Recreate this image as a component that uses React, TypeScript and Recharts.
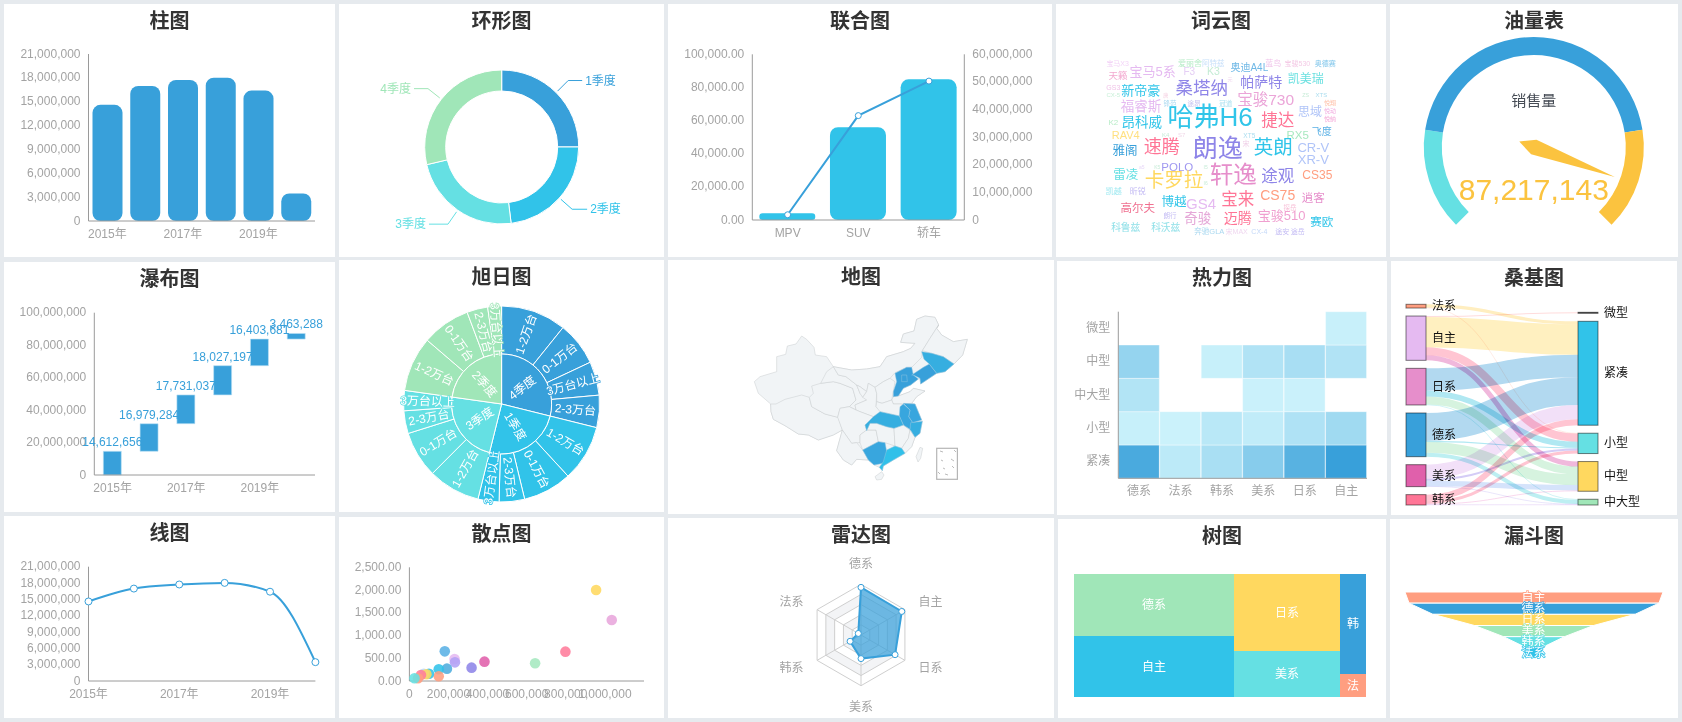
import React from 'react';
import {
  BarChart, Bar, XAxis, YAxis, PieChart, Pie, Cell, ComposedChart, Line, LineChart, ScatterChart, Scatter,
  RadarChart, Radar, PolarGrid, PolarAngleAxis, PolarRadiusAxis, Sankey, Treemap, FunnelChart, Funnel, LabelList,
} from 'recharts';

// ---------- palette ----------
const BLUE = '#38a0da', CYAN = '#31c3e9', AQUA = '#65e0e3', GREEN = '#a0e6b8', YELLOW = '#ffd85f', CORAL = '#ff9e80',
  GOLD = '#fbc33f', PINK = '#e68ecb', LILAC = '#e5baf1', MAGENTA = '#e060ab', ROSE = '#ff7596', VIOLET = '#8e85e8';
const AXIS = '#9a9a9a', TICK = '#a3a3a3';

// ---------- data ----------
const years = ['2015年', '2016年', '2017年', '2018年', '2019年', '2020年'];
const yearSales = [14612656, 16979284, 17731037, 18027197, 16403681, 3463288];
const salesTicks = [0, 3000000, 6000000, 9000000, 12000000, 15000000, 18000000, 21000000];

const quarters = ['1季度', '2季度', '3季度', '4季度'];
const quarterSales = [21800000, 20100000, 20300000, 25017143];

const bodyTypes = ['MPV', 'SUV', '轿车'];
const bodyPrice = [4000, 56000, 84900];
const bodySales = [1900000, 37800000, 50300000];

const gaugeLabel = '销售量';
const gaugeValue = 87217143;
const gaugeMax = 96000000;
const gaugeBands = [20, 60, 20];

const waterfallTicks = [0, 20000000, 40000000, 60000000, 80000000, 100000000];

const sunQuarters = ['4季度', '1季度', '3季度', '2季度'];
const sunChildren = [
  [['1-2万台', 9400000], ['0-1万台', 6300000], ['3万台以上', 4850000], ['2-3万台', 4650000]],
  [['1-2万台', 8090000], ['0-1万台', 7030000], ['2-3万台', 3660000], ['3万台以上', 3030000]],
  [['1-2万台', 7490000], ['0-1万台', 6690000], ['2-3万台', 3270000], ['3万台以上', 2910000]],
  [['1-2万台', 7900000], ['0-1万台', 6980000], ['2-3万台', 3000000], ['3万台以上', 1990000]],
];

const heatX = ['德系', '法系', '韩系', '美系', '日系', '自主'];
const heatRows = ['紧凑', '小型', '中大型', '中型', '微型'];
const heatValues = [
  [88, 10, 23, 46, 78, 100],
  [3, 0, 12, 7, 19, 29],
  [17, null, null, 1, 1, null],
  [37, null, 3, 18, 24, 18],
  [null, null, null, null, null, 2],
];

const sankeyNames = ['法系', '自主', '日系', '德系', '美系', '韩系', '微型', '紧凑', '小型', '中型', '中大型'];
const sankeyFlows = [
  [0, 7, 3.2], [0, 8, 0.5],
  [1, 6, 1], [1, 7, 30], [1, 8, 8], [1, 9, 5],
  [2, 7, 22.3], [2, 8, 5.7], [2, 9, 7.7], [2, 10, 0.7],
  [3, 7, 27.7], [3, 8, 1], [3, 9, 10.7], [3, 10, 4],
  [4, 7, 14], [4, 8, 2], [4, 9, 5.3], [4, 10, 0.5],
  [5, 7, 6], [5, 8, 3], [5, 9, 0.8], [5, 10, 0.5],
];

const scatterX = [955000, 1035000, 798000, 643000, 384000, 318000, 231000, 233000, 181000, 192000, 150000, 150000, 100000, 74000, 87000, 59000, 44000, 26000];
const scatterY = [2001, 1342, 645, 389, 425, 293, 484, 410, 652, 271, 257, 103, 161, 161, 147, 132, 59, 59];
const scatterXTicks = [0, 200000, 400000, 600000, 800000, 1000000];
const scatterYTicks = [0, 500, 1000, 1500, 2000, 2500];

const brandOrder = ['德系', '自主', '日系', '美系', '韩系', '法系'];
const brandSales = [23960000, 23690000, 19790000, 11870000, 6330000, 1570000];
const radarMax = 25500000;

const funnelNames = ['自主', '德系', '日系', '美系', '韩系', '法系'];
const funnelValues = [2396, 2320, 1876, 1105, 566, 139];

const cloudWords = ['宝马X3', '宝马5系', '爱丽舍', '阿特兹', '奥迪A4L', '蓝鸟', '宝骏530', '奥德赛', '天籁', 'F3', 'K3', '元', '凯美瑞', '帕萨特', '桑塔纳', '新帝豪', 'GS3', 'CX-5', '唐', 'ZS', 'XTS', '宝骏730', '福睿斯', '锋范', '途昂', '冠道', '悦翔', '悦动', '悦纳', '思域', '哈弗H6', '捷达', '昂科威', 'K2', 'RAV4', 'K4', 'S7', 'XT5', 'RX5', '飞度', '速腾', '朗逸', '英朗', 'CR-V', '雅阁', '宋', 'XR-V', 'POLO', 'a5', 'K5', 'I5', 'I6', '雷凌', '卡罗拉', '轩逸', '途观', 'CS35', '凯越', '昕锐', '博越', 'GS4', '宝来', 'CS75', '逍客', '高尔夫', '探岳', '奇骏', '迈腾', '宝骏510', '朗行', '科鲁兹', '科沃兹', '赛欧', '奔驰GLA', '宋MAX', 'CX-4', '途安', '途岳'];
const cloudWeights = [7, 13, 8, 7.5, 10, 8, 7, 7, 9.5, 10, 10.5, 5, 12, 14, 17.5, 13, 7, 6, 5, 5.5, 6, 15.5, 13.5, 6.5, 6.5, 6.5, 6, 6, 6, 12, 26, 16.5, 13.5, 8, 11, 6, 6, 6.5, 11.5, 10, 18, 25, 19.5, 13, 12.5, 7, 13, 11.5, 5, 5, 5, 5, 12.5, 19.5, 23.5, 16.5, 12, 8, 8, 12.5, 15, 16.5, 14, 11.5, 11.5, 6.5, 13.5, 14, 13, 6.5, 9.7, 9.7, 11.5, 7.5, 7, 7, 7, 7];

// ---------- layout tables (word cloud placement / map outline, in units of 1/3 px) ----------
const cloudLayout = [[203,190,'#f3d4f7'],[308,213,'#e5baf1'],[420,190,'#b8ecc8'],[490,190,'#c8e0fa'],[598,202,'#6fb8e6'],[670,190,'#f0c4ea'],[742,190,'#f4cbe6'],[826,190,'#7cc4ea'],[204,227,'#f3a9d0'],[418,213,'#e5cff5'],[490,213,'#c5ecd5'],[540,238,'#f0d8f0'],[767,238,'#6ae0e0'],[634,247,'#8e85e8'],[455,264,'#8e85e8'],[272,272,'#31c5e9'],[190,262,'#f0c4e8'],[190,286,'#c8f0d8'],[347,285,'#f4cde0'],[767,286,'#c8ecd8'],[814,286,'#aaddef'],[647,298,'#eba5d8'],[273,320,'#e5baf1'],[360,310,'#a9d8f0'],[432,310,'#c4c0f0'],[527,310,'#a9e0f0'],[840,310,'#ffc0a8'],[840,334,'#f2aee0'],[840,358,'#f4a8d8'],[780,335,'#b0c4f8'],[480,350,'#31c5e9'],[683,360,'#ff7596'],[275,368,'#31c5e9'],[190,368,'#b8ecc8'],[227,405,'#ffe080'],[347,405,'#c8ecd8'],[395,405,'#f0d8e8'],[598,405,'#aaddef'],[743,405,'#a8e8c0'],[815,393,'#5ab0e5'],[335,442,'#ff7596'],[503,444,'#8e85e8'],[670,442,'#31c5e9'],[790,442,'#b0c4f8'],[225,452,'#38a0da'],[588,430,'#f0d0e8'],[790,478,'#b0c4f8'],[382,501,'#a098f0'],[275,501,'#e8d8f8'],[322,501,'#c8ecd8'],[467,501,'#c8ecd8'],[467,550,'#c8ecd8'],[227,525,'#65e0e3'],[372,541,'#ffd85f'],[550,526,'#e68ecb'],[683,527,'#8e85e8'],[802,526,'#ff9e80'],[191,573,'#9ce8f0'],[263,573,'#c4bcf4'],[372,607,'#31c5e9'],[453,611,'#e5baf1'],[563,597,'#ff7596'],[683,585,'#ff9e80'],[790,595,'#e68ecb'],[263,623,'#f07090'],[720,622,'#f8c0d8'],[443,655,'#e5a8d8'],[563,655,'#ff7596'],[695,645,'#f0a0d0'],[360,645,'#c4bcf4'],[227,683,'#90e0e8'],[347,683,'#90e0e8'],[815,667,'#31c5e9'],[478,695,'#a9d8f0'],[560,695,'#f0d8f0'],[628,695,'#c4d8f8'],[697,695,'#c4bcf4'],[743,695,'#c4bcf4']];

const MAP_GREY = '#f1f4f6', MAP_BLUE = '#38a6de', MAP_DEEP = '#38a0da', MAP_LIGHT = '#36aee0', MAP_HOT = '#31c0e9';
const mapRegions = [
  ['中国', MAP_GREY, '253,365 270,350 320,335 320,290 347,283 352,258 378,252 395,228 410,238 432,262 436,285 470,290 490,320 545,330 590,327 630,320 650,290 700,275 722,265 735,250 692,247 700,222 732,213 740,178 765,168 795,172 806,195 800,205 815,225 850,245 892,238 878,285 852,312 825,335 800,340 752,372 750,355 745,357 722,375 700,385 685,408 720,395 730,385 765,393 740,410 725,430 735,432 755,480 757,484 750,520 735,532 725,560 705,580 670,600 640,618 637,632 628,622 612,615 595,600 560,598 545,615 520,600 500,572 517,510 490,525 445,540 415,525 385,522 345,497 310,478 303,455 302,432 265,400'],
  ['西藏', MAP_GREY, '302,432 318,432 345,418 395,405 418,412 425,440 465,462 505,472 517,510 490,525 445,540 415,525 385,522 345,497 310,478 303,455'],
  ['青海', MAP_GREY, '425,378 452,370 490,365 510,370 548,385 558,420 538,440 510,445 503,472 465,462 425,440 418,412 430,400'],
  ['甘肃', MAP_GREY, '490,320 505,345 528,350 560,375 570,400 590,420 555,435 558,450 538,440 558,420 548,385 510,370 490,365 452,370 470,335'],
  ['内蒙', MAP_GREY, '490,320 545,330 590,327 630,320 650,290 700,275 722,265 735,250 692,247 700,222 732,213 740,178 765,168 795,172 806,195 796,210 780,235 757,272 755,292 725,322 710,322 675,338 660,355 640,365 615,382 595,370 590,395 570,380 560,375 528,350 505,345'],
  ['宁夏', MAP_GREY, '560,375 570,380 590,395 578,412 570,400'],
  ['黑龙江', MAP_GREY, '806,195 800,205 815,225 850,245 892,238 878,285 852,312 820,290 785,280 757,272 780,235 796,210'],
  ['陕西', MAP_GREY, '595,370 615,382 620,400 618,440 635,455 610,470 570,455 558,450 555,435 590,420 578,412 590,395'],
  ['山西', MAP_GREY, '640,365 660,355 675,365 670,395 665,420 636,430 620,425 620,400 615,382'],
  ['山东', MAP_GREY, '685,408 720,395 730,385 765,393 740,410 725,430 695,432 670,432 665,420 670,410'],
  ['河南', MAP_GREY, '636,430 665,420 670,432 695,432 700,440 688,468 630,455 618,440 620,425'],
  ['四川', MAP_GREY, '503,472 510,445 538,440 558,450 570,455 610,470 600,490 585,495 590,510 570,525 570,548 560,548 545,550 517,510'],
  ['云南', MAP_GREY, '517,510 545,550 560,548 570,560 580,572 595,600 560,598 545,615 520,600 500,572'],
  ['贵州', MAP_GREY, '570,525 590,510 618,510 625,545 578,570 570,548'],
  ['湖南', MAP_GREY, '620,490 650,500 672,505 675,558 645,548 625,545 618,510 590,510 600,490'],
  ['江西', MAP_GREY, '672,505 700,495 720,510 715,535 695,565 675,558'],
  ['福建', MAP_GREY, '720,510 735,532 725,560 705,580 695,565 715,535'],
  ['台湾', MAP_GREY, '738,590 750,562 758,565 752,595 744,606'],
  ['海南', MAP_GREY, '615,650 635,635 642,645 635,658 620,660'],
  ['河北', MAP_DEEP, '675,340 710,322 725,322 730,345 745,357 722,375 700,385 685,408 670,410 670,395 680,365'],
  ['北京', MAP_DEEP, '695,345 710,345 712,365 695,365'],
  ['辽宁', MAP_DEEP, '725,345 760,322 778,312 800,340 752,372 750,355 730,345'],
  ['吉林', MAP_LIGHT, '755,275 785,280 820,290 852,312 825,335 800,340 778,312 762,298'],
  ['江苏', MAP_BLUE, '700,430 735,432 755,480 728,488 716,470 720,450'],
  ['安徽', MAP_BLUE, '690,440 700,432 720,450 716,470 728,488 720,508 700,495 688,468'],
  ['浙江', MAP_LIGHT, '722,488 757,484 750,520 735,532 720,508'],
  ['湖北', MAP_LIGHT, '630,455 688,468 700,495 672,505 650,500 620,490 600,490 590,512 585,495 610,470'],
  ['广西', MAP_BLUE, '578,570 625,545 645,548 652,585 640,610 612,615 595,600'],
  ['广东', MAP_HOT, '650,570 675,558 695,565 705,580 670,600 640,618 637,632 628,622 640,605'],
];

// ---------- panels ----------
const panelBar = { x: 4, y: 4, w: 331, h: 253, title: '柱图' };
const panelDonut = { x: 339, y: 4, w: 325, h: 253, title: '环形图' };
const panelCombo = { x: 668, y: 4, w: 384, h: 253, title: '联合图' };
const panelCloud = { x: 1056, y: 4, w: 330, h: 253, title: '词云图' };
const panelGauge = { x: 1390, y: 4, w: 288, h: 253, title: '油量表' };
const panelFall = { x: 4, y: 262, w: 331, h: 250, title: '瀑布图' };
const panelSun = { x: 339, y: 260, w: 325, h: 252, title: '旭日图' };
const panelMap = { x: 668, y: 260, w: 386, h: 254, title: '地图' };
const panelHeat = { x: 1057, y: 261, w: 330, h: 254, title: '热力图' };
const panelSankey = { x: 1391, y: 261, w: 286, h: 254, title: '桑基图' };
const panelLine = { x: 4, y: 516, w: 331, h: 202, title: '线图' };
const panelScatter = { x: 339, y: 517, w: 325, h: 201, title: '散点图' };
const panelRadar = { x: 668, y: 518, w: 386, h: 200, title: '雷达图' };
const panelTree = { x: 1058, y: 519, w: 328, h: 199, title: '树图' };
const panelFunnel = { x: 1390, y: 519, w: 288, h: 199, title: '漏斗图' };

const XH = 30;
const frame = (p: any, left: number, top: number, right: number, bottom: number) => ({
  width: p.w,
  height: p.h,
  margin: { top: top - p.y, right: p.x + p.w - right, bottom: p.y + p.h - bottom - XH, left: 0 },
});
const fmt0 = (v: number) => Number(v).toLocaleString('en-US');
const fmt2 = (v: number) => Number(v).toLocaleString('en-US', { minimumFractionDigits: 2, maximumFractionDigits: 2 });
const axisProps = { tickLine: false, tickSize: 0, tickMargin: 8, axisLine: { stroke: AXIS }, tick: { fill: TICK, fontSize: 12, dy: -0.7 } };
const xProps = { ...axisProps, height: XH, tickMargin: 8, tick: { fill: TICK, fontSize: 12 } };
const RAD = Math.PI / 180;

const Panel = ({ p, children }: any) => (
  <div style={{ position: 'absolute', left: p.x, top: p.y, width: p.w, height: p.h, background: '#fff' }}>
    {children}
    <div style={{ position: 'absolute', left: 0, right: 0, top: 4, textAlign: 'center', fontSize: 20, lineHeight: '26px', fontWeight: 700, color: '#333', pointerEvents: 'none' }}>{p.title}</div>
  </div>
);

// ---------- charts ----------
const barRows = years.map((name, i) => ({ name, value: yearSales[i] }));
const BarPanel = () => (
  <BarChart {...frame(panelBar, 88.5, 54, 315, 221)} data={barRows} barCategoryGap="20%">
    <XAxis dataKey="name" interval={1} {...xProps} />
    <YAxis width={84.5} domain={[0, 21000000]} ticks={salesTicks} interval={0} tickFormatter={fmt0} {...axisProps} />
    <Bar dataKey="value" fill={BLUE} radius={8} barSize={30} isAnimationActive={false} />
  </BarChart>
);

const donutRows = quarters.map((name, i) => ({ name, value: quarterSales[i] }));
const donutColors = [BLUE, CYAN, AQUA, GREEN];
const donutLeaders = [14, 15, 19, 14];
const donutLabel = (p: any) => {
  const c = donutColors[p.index];
  const ca = Math.cos(p.midAngle * RAD), sa = Math.sin(p.midAngle * RAD);
  const R = p.outerRadius;
  const dir = ca >= 0 ? 1 : -1;
  const x1 = p.cx + (R + 2) * ca, y1 = p.cy - (R + 2) * sa;
  const x2 = p.cx + (R + 17) * ca, y2 = p.cy - (R + 17) * sa;
  const x3 = x2 + dir * donutLeaders[p.index];
  return (
    <g key={p.index}>
      <polyline points={`${x1},${y1} ${x2},${y2} ${x3},${y2}`} fill="none" stroke={c} strokeWidth={1} />
      <text x={x3 + dir * 3} y={y2} fill={c} fontSize={12} textAnchor={dir > 0 ? 'start' : 'end'} dominantBaseline="central">{p.name}</text>
    </g>
  );
};
const DonutPanel = () => (
  <PieChart width={panelDonut.w} height={panelDonut.h} margin={{ top: 0, right: 0, bottom: 0, left: 0 }}>
    <Pie data={donutRows} dataKey="value" nameKey="name" cx={162.7} cy={143} innerRadius={56} outerRadius={77} startAngle={90} endAngle={-270}
      stroke="#fff" strokeWidth={1} label={donutLabel} labelLine={false} isAnimationActive={false}>
      {donutRows.map((_, i) => <Cell key={i} fill={donutColors[i]} />)}
    </Pie>
  </PieChart>
);

const comboRows = bodyTypes.map((name, i) => ({ name, price: bodyPrice[i], sales: bodySales[i] }));
const comboFrame = frame(panelCombo, 752.3, 54.3, 964.3, 220);
const ComboPanel = () => (
  <ComposedChart width={comboFrame.width} height={comboFrame.height} margin={{ ...comboFrame.margin, right: 0 }} data={comboRows}>
    <XAxis dataKey="name" {...xProps} />
    <YAxis yAxisId="l" width={84.3} domain={[0, 100000]} ticks={[0, 20000, 40000, 60000, 80000, 100000]} interval={0} tickFormatter={fmt2} {...axisProps} />
    <YAxis yAxisId="r" orientation="right" width={87.7} domain={[0, 60000000]} ticks={[0, 10000000, 20000000, 30000000, 40000000, 50000000, 60000000]} interval={0} tickFormatter={fmt0} {...axisProps} />
    <Bar yAxisId="l" dataKey="price" fill={CYAN} radius={8} barSize={56} isAnimationActive={false} />
    <Line yAxisId="r" dataKey="sales" type="linear" stroke={BLUE} strokeWidth={2} dot={{ r: 3, fill: '#fff', stroke: BLUE, strokeWidth: 1 }} isAnimationActive={false} />
  </ComposedChart>
);

const cloudRows = cloudWords.map((text, i) => ({ text, size: cloudWeights[i], x: cloudLayout[i][0], y: cloudLayout[i][1], color: cloudLayout[i][2] }));
const CloudPanel = () => (
  <ScatterChart width={panelCloud.w} height={panelCloud.h} margin={{ top: 0, right: 0, bottom: 0, left: 0 }}>
    <XAxis type="number" dataKey="x" hide domain={[18, 1008]} />
    <YAxis type="number" dataKey="y" hide domain={[12, 771]} reversed width={0} />
    <Scatter data={cloudRows} isAnimationActive={false} shape={(p: any) => (
      <text x={p.cx} y={p.cy} fontSize={p.payload.size} fill={p.payload.color} textAnchor="middle" dominantBaseline="central">{p.payload.text}</text>
    )} />
  </ScatterChart>
);

const gaugeRows = gaugeBands.map((value, i) => ({ name: String(i), value }));
const gaugeColors = [AQUA, BLUE, GOLD];
const GaugePanel = () => {
  const cx = 143.8, cy = 143;
  const frac = gaugeValue / gaugeMax;
  const deg = -(225 - 270 * frac);
  return (
    <PieChart width={panelGauge.w} height={panelGauge.h} margin={{ top: 0, right: 0, bottom: 0, left: 0 }}>
      <Pie data={gaugeRows} dataKey="value" cx={cx} cy={cy} innerRadius={92} outerRadius={110} startAngle={225} endAngle={-45} stroke="none" isAnimationActive={false}>
        {gaugeRows.map((_, i) => <Cell key={i} fill={gaugeColors[i]} />)}
      </Pie>
      <polygon points={`${cx + 86.4},${cy} ${cx},${cy + 7.8} ${cx - 15.5},${cy} ${cx},${cy - 7.8}`} fill={GOLD} transform={`rotate(${deg} ${cx} ${cy})`} />
      <text x={cx} y={96.5} fontSize={15} fill="#464c55" textAnchor="middle" dominantBaseline="central">{gaugeLabel}</text>
      <text x={cx} y={185} fontSize={30} fill={GOLD} textAnchor="middle" dominantBaseline="central">{fmt0(gaugeValue)}</text>
    </PieChart>
  );
};

let running = 0;
const fallRows = years.map((name, i) => {
  const low = running;
  running += yearSales[i];
  return { name, value: yearSales[i], range: [low, running] };
});
const FallPanel = () => (
  <BarChart {...frame(panelFall, 94.3, 312.7, 315, 475)} data={fallRows}>
    <XAxis dataKey="name" interval={1} {...xProps} />
    <YAxis width={90.3} domain={[0, 100000000]} ticks={waterfallTicks} interval={0} tickFormatter={fmt0} {...axisProps} />
    <Bar dataKey="range" fill={BLUE} barSize={18} stroke="#bfe3f5" strokeWidth={0.6} isAnimationActive={false}>
      <LabelList dataKey="value" position="top" fill={BLUE} fontSize={12} formatter={fmt0} />
    </Bar>
  </BarChart>
);

const sunColors = [BLUE, CYAN, AQUA, GREEN];
const sunInner = sunQuarters.map((name, i) => ({ name, value: sunChildren[i].reduce((s: number, c: any) => s + c[1], 0), q: i }));
const sunOuter = sunChildren.flatMap((list: any, q: number) => list.map((c: any) => ({ name: c[0], value: c[1], q })));
const sunLabel = (p: any) => {
  const r = (p.innerRadius + p.outerRadius) / 2 * (p.innerRadius === 0 ? 1.05 : 1);
  const a = p.midAngle;
  const ca = Math.cos(a * RAD), sa = Math.sin(a * RAD);
  const x = p.cx + r * ca, y = p.cy - r * sa;
  const rot = ca >= 0 ? -a : 180 - a;
  return (
    <text key={p.index} x={x} y={y} fill="#fff" fontSize={12} textAnchor="middle" dominantBaseline="central"
      transform={`rotate(${rot} ${x} ${y})`} stroke={sunColors[p.payload.q]} strokeWidth={1.5} style={{ paintOrder: 'stroke' }}>{p.name}</text>
  );
};
const SunPanel = () => (
  <PieChart width={panelSun.w} height={panelSun.h} margin={{ top: 0, right: 0, bottom: 0, left: 0 }}>
    <Pie data={sunOuter} dataKey="value" nameKey="name" cx={162.6} cy={144} innerRadius={50} outerRadius={98} startAngle={90} endAngle={-270}
      stroke="#fff" strokeWidth={1} label={sunLabel} labelLine={false} isAnimationActive={false}>
      {sunOuter.map((d: any, i: number) => <Cell key={i} fill={sunColors[d.q]} />)}
    </Pie>
    <Pie data={sunInner} dataKey="value" nameKey="name" cx={162.6} cy={144} innerRadius={0} outerRadius={50} startAngle={90} endAngle={-270}
      stroke="#fff" strokeWidth={1} label={sunLabel} labelLine={false} isAnimationActive={false}>
      {sunInner.map((d: any, i: number) => <Cell key={i} fill={sunColors[d.q]} />)}
    </Pie>
  </PieChart>
);

const mapRows = mapRegions.map((r: any) => {
  const pts = r[2].split(' ').map((s: string) => s.split(',').map(Number));
  return { name: r[0], fill: r[1], pts, x: pts[0][0], y: pts[0][1] };
});
const MapPanel = () => (
  <ScatterChart width={panelMap.w} height={panelMap.h} margin={{ top: 0, right: 0, bottom: 0, left: 0 }}>
    <XAxis type="number" dataKey="x" hide domain={[-6, 1152]} />
    <YAxis type="number" dataKey="y" hide domain={[0, 762]} reversed width={0} />
    <Scatter data={mapRows} isAnimationActive={false} shape={(p: any) => {
      const d = p.payload;
      const pts = d.pts.map((v: number[]) => `${p.cx + (v[0] - d.x) / 3},${p.cy + (v[1] - d.y) / 3}`).join(' ');
      return <polygon points={pts} fill={d.fill} stroke={d.fill === MAP_GREY ? '#c9cccf' : '#8fc4e0'} strokeWidth={0.5} strokeLinejoin="round" />;
    }} />
    <rect x={268.7} y={188.3} width={20.7} height={31} fill="#fff" stroke="#b5b5b5" strokeWidth={1.2} />
    <path d="M272 191 l3 1 M286 190 l2 2 M273 200 l2 1 M283 199 l3 2 M275 208 l2 1 M284 206 l2 2 M277 214 l3 1 M270 212 l2 2" stroke="#aaa" strokeWidth={0.8} fill="none" />
  </ScatterChart>
);

const heatCeil = [203, 242, 251], heatFloor = [56, 160, 218];
const heatColor = (v: number | null) => {
  if (v === null) return 'transparent';
  const t = v / 100;
  const c = heatCeil.map((a, k) => Math.round(a + (heatFloor[k] - a) * t));
  return `rgb(${c.join(',')})`;
};
const heatData = heatX.map((name) => {
  const row: any = { name };
  heatRows.forEach((_, r) => { row['r' + r] = 1; });
  return row;
});
const HeatPanel = () => (
  <BarChart {...frame(panelHeat, 1118.3, 311.7, 1367, 478.3)} data={heatData} barCategoryGap={0} barGap={0}>
    <XAxis dataKey="name" {...xProps} />
    <YAxis width={61.3} type="number" domain={[0, 5]} ticks={[0.5, 1.5, 2.5, 3.5, 4.5]} interval={0} tickFormatter={(v: number) => heatRows[Math.floor(v)]} {...axisProps} />
    {heatRows.map((_, r) => (
      <Bar key={r} dataKey={'r' + r} stackId="h" isAnimationActive={false}>
        {heatX.map((__, c) => (
          <Cell key={c} fill={heatColor(heatValues[r][c])} stroke={heatValues[r][c] === null ? 'none' : '#ffffff'} strokeOpacity={0.4} />
        ))}
      </Bar>
    ))}
  </BarChart>
);

const sankeyNodeColors = [CORAL, LILAC, PINK, BLUE, MAGENTA, ROSE, '#555', CYAN, AQUA, YELLOW, GREEN];
const sankeyLinkColors = ['#ffeec0', '#ffd8cc', '#ffdcdc', '#fff0c0', '#ffc5d2', '#f0b8dc', '#b2d9f0', '#b0e8f2', '#d6f3df', '#bdeff2', '#b2d9f0', '#b0e8f2', '#d6f3df', '#bdeff2', '#f2e0f8', '#d4ccf6', '#d5e3fb', '#d4ccf6', '#ffc5d2', '#ffc5d2', '#f8d0ea', '#e0c8f4'];
const sankeyData = {
  nodes: sankeyNames.map((name) => ({ name })),
  links: sankeyFlows.map((f) => ({ source: f[0], target: f[1], value: f[2] })),
};
const sankeyNode = (p: any) => (
  <g>
    <rect x={p.x} y={p.y} width={p.width} height={p.height} fill={sankeyNodeColors[p.index]} stroke="#000" strokeOpacity={0.5} strokeWidth={1} />
    <text x={p.x + p.width + 6} y={p.y + p.height / 2} fontSize={12} fill="#111" dominantBaseline="central">{p.payload.name}</text>
  </g>
);
const sankeyLink = (p: any) => (
  <path d={`M${p.sourceX},${p.sourceY} C${p.sourceControlX},${p.sourceY} ${p.targetControlX},${p.targetY} ${p.targetX},${p.targetY}`}
    fill="none" stroke={sankeyLinkColors[p.index]} strokeWidth={p.linkWidth} style={{ mixBlendMode: 'multiply' }} />
);
const SankeyPanel = () => (
  <Sankey width={panelSankey.w} height={panelSankey.h} data={sankeyData} nodeWidth={20} nodePadding={8} sort={false}
    margin={{ top: 43.3, right: 79, bottom: 10, left: 15 }} node={sankeyNode} link={sankeyLink} />
);

const lineRows = years.map((name, i) => ({ name, value: yearSales[i] }));
const LinePanel = () => (
  <LineChart {...frame(panelLine, 88.5, 566.7, 315.4, 681)} data={lineRows}>
    <XAxis dataKey="name" interval={1} {...xProps} />
    <YAxis width={84.5} domain={[0, 21000000]} ticks={salesTicks} interval={0} tickFormatter={fmt0} {...axisProps} />
    <Line dataKey="value" type="monotone" stroke={BLUE} strokeWidth={2} dot={{ r: 3.5, fill: '#fff', stroke: BLUE, strokeWidth: 1 }} isAnimationActive={false} />
  </LineChart>
);

const scatterColors = [YELLOW, '#e8a6dc', '#ff7c9b', '#a5e8bf', MAGENTA, VIOLET, LILAC, '#b0a0f5', '#5ab0e5', '#4eadde', CYAN, CORAL, CYAN, '#b8d8f8', YELLOW, '#ff7c9b', CORAL, AQUA];
const scatterRows = scatterX.map((x, i) => ({ x, y: scatterY[i], color: scatterColors[i] }));
const ScatterPanel = () => (
  <ScatterChart {...frame(panelScatter, 409.4, 567.3, 644, 681)}>
    <XAxis type="number" dataKey="x" domain={[0, 1200000]} ticks={scatterXTicks} interval={0} tickFormatter={fmt0} {...xProps} />
    <YAxis type="number" dataKey="y" width={70.4} domain={[0, 2500]} ticks={scatterYTicks} interval={0} tickFormatter={fmt2} {...axisProps} />
    <Scatter data={scatterRows} isAnimationActive={false} shape={(p: any) => (
      <circle cx={p.cx} cy={p.cy} r={5.3} fill={p.payload.color} fillOpacity={0.88} />
    )} />
  </ScatterChart>
);

const radarRows = brandOrder.map((name, i) => ({ name, value: brandSales[i], b4: radarMax * 0.8, b3: radarMax * 0.6, b2: radarMax * 0.4, b1: radarMax * 0.2 }));
const RADAR_CX = 193, RADAR_CY = 117, RADAR_R = 50.7;
const radarTick = (p: any) => {
  const dx = p.x - RADAR_CX, dy = p.y - RADAR_CY;
  const isTopBottom = Math.abs(dx) < 1;
  const k = isTopBottom ? 71.5 / (RADAR_R + 8) : 66.5 / (RADAR_R + 8);
  return (
    <text x={RADAR_CX + dx * k} y={RADAR_CY + dy * k} fontSize={12} fill={TICK} dominantBaseline="central"
      textAnchor={isTopBottom ? 'middle' : dx > 0 ? 'start' : 'end'}>{p.payload.value}</text>
  );
};
const radarBase = { width: panelRadar.w, height: panelRadar.h, cx: RADAR_CX, cy: RADAR_CY, outerRadius: RADAR_R, data: radarRows, margin: { top: 0, right: 0, bottom: 0, left: 0 } };
const RadarPanel = () => (
  <>
    <RadarChart {...radarBase}>
      <PolarRadiusAxis domain={[0, radarMax]} tick={false} axisLine={false} />
      <PolarAngleAxis dataKey="name" tick={false} tickLine={false} axisLine={false} />
      <Radar dataKey="b4" fill="#f3f4f6" fillOpacity={1} stroke="none" dot={false} isAnimationActive={false} />
      <Radar dataKey="b3" fill="#ffffff" fillOpacity={1} stroke="none" dot={false} isAnimationActive={false} />
      <Radar dataKey="b2" fill="#f3f4f6" fillOpacity={1} stroke="none" dot={false} isAnimationActive={false} />
      <Radar dataKey="b1" fill="#ffffff" fillOpacity={1} stroke="none" dot={false} isAnimationActive={false} />
    </RadarChart>
    <div style={{ position: 'absolute', left: 0, top: 0 }}>
      <RadarChart {...radarBase}>
        <PolarRadiusAxis domain={[0, radarMax]} tick={false} axisLine={false} />
        <PolarGrid stroke="#cfcfcf" polarRadius={[RADAR_R * 0.2, RADAR_R * 0.4, RADAR_R * 0.6, RADAR_R * 0.8, RADAR_R]} />
        <PolarAngleAxis dataKey="name" tick={radarTick} tickLine={false} axisLine={false} />
        <Radar dataKey="value" fill={BLUE} fillOpacity={0.72} stroke={BLUE} strokeWidth={2} dot={{ r: 3, fill: '#fff', fillOpacity: 1, stroke: BLUE, strokeWidth: 1 }} isAnimationActive={false} />
      </RadarChart>
    </div>
  </>
);

const treeColors: any = { 德系: GREEN, 自主: CYAN, 日系: YELLOW, 美系: AQUA, 韩系: BLUE, 法系: CORAL };
const treeRows = brandOrder.map((name, i) => ({ name, size: brandSales[i] }));
const treeCell = (p: any) => {
  if (!p.name || p.depth === 0 || !treeColors[p.name]) return <g />;
  const label = p.width < 40 ? p.name.slice(0, 1) : p.name;
  return (
    <g>
      <rect x={p.x} y={p.y} width={p.width} height={p.height} fill={treeColors[p.name]} stroke="none" />
      <text x={p.x + p.width / 2} y={p.y + p.height / 2} fontSize={12} fill="#fff" textAnchor="middle" dominantBaseline="central">{label}</text>
    </g>
  );
};
const TreePanel = () => (
  <div style={{ position: 'absolute', left: 1074 - panelTree.x, top: 574 - panelTree.y }}>
    <Treemap width={292} height={123} data={treeRows} dataKey="size" nameKey="name" type="flat" stroke="none" content={treeCell} isAnimationActive={false} />
  </div>
);

const funnelColors = [CORAL, BLUE, YELLOW, GREEN, AQUA, CYAN];
const funnelRows = funnelNames.map((name, i) => ({ name, value: funnelValues[i] }));
const funnelLabel = (p: any) => {
  const vb = p.viewBox || p;
  const y = vb.y + vb.height / 2;
  return (
    <text x={panelFunnel.w / 2 - 0.5} y={y} fontSize={12} fill="#fff" textAnchor="middle" dominantBaseline="central"
      stroke={funnelColors[p.index]} strokeWidth={1.5} style={{ paintOrder: 'stroke' }}>{p.value}</text>
  );
};
const FunnelPanel = () => (
  <FunnelChart width={panelFunnel.w} height={panelFunnel.h} margin={{ top: 73, right: 15, bottom: 59, left: 15 }}>
    <Funnel data={funnelRows} dataKey="value" nameKey="name" stroke="#fff" strokeWidth={1} isAnimationActive={false} lastShapeType="triangle">
      {funnelRows.map((_, i) => <Cell key={i} fill={funnelColors[i]} />)}
      <LabelList dataKey="name" content={funnelLabel} />
    </Funnel>
  </FunnelChart>
);

export default function App() {
  return (
    <div style={{ position: 'fixed', left: 0, top: 0, width: 1682, height: 722, background: '#e6eaee', overflow: 'hidden', fontFamily: '"Liberation Sans","Noto Sans CJK SC",sans-serif' }}>
      <Panel p={panelBar}><BarPanel /></Panel>
      <Panel p={panelDonut}><DonutPanel /></Panel>
      <Panel p={panelCombo}><ComboPanel /></Panel>
      <Panel p={panelCloud}><CloudPanel /></Panel>
      <Panel p={panelGauge}><GaugePanel /></Panel>
      <Panel p={panelFall}><FallPanel /></Panel>
      <Panel p={panelSun}><SunPanel /></Panel>
      <Panel p={panelMap}><MapPanel /></Panel>
      <Panel p={panelHeat}><HeatPanel /></Panel>
      <Panel p={panelSankey}><SankeyPanel /></Panel>
      <Panel p={panelLine}><LinePanel /></Panel>
      <Panel p={panelScatter}><ScatterPanel /></Panel>
      <Panel p={panelRadar}><RadarPanel /></Panel>
      <Panel p={panelTree}><TreePanel /></Panel>
      <Panel p={panelFunnel}><FunnelPanel /></Panel>
    </div>
  );
}
